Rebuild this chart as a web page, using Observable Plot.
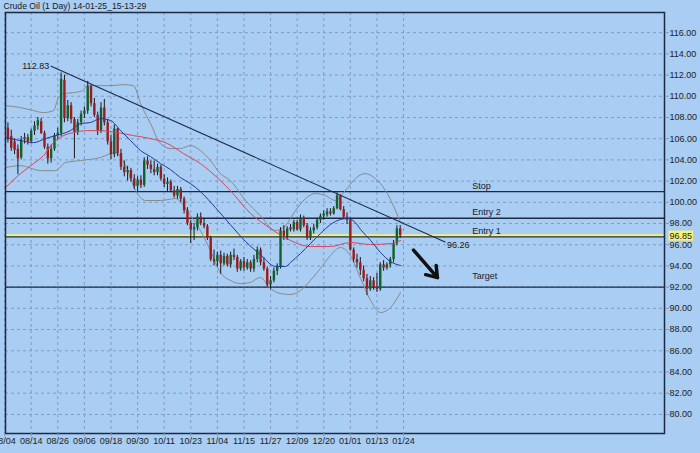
<!DOCTYPE html>
<html><head><meta charset="utf-8">
<script src="https://cdn.jsdelivr.net/npm/d3@7"></script>
<script src="https://cdn.jsdelivr.net/npm/@observablehq/plot@0.6"></script>
<style>
html,body{margin:0;padding:0;background:#a9cdf3;}
#chart{width:700px;height:453px;overflow:hidden;}
</style></head><body><div id="chart"></div>
<script>
const title = "Crude Oil (1 Day) 14-01-25_15-13-29";
const dateLabels = ["08/04","08/14","08/26","09/06","09/18","09/30","10/11","10/23","11/04","11/15","11/27","12/09","12/20","01/01","01/13","01/24"];
const labelIndex = [0,8,16,24,32,40,48,56,64,72,80,88,96,104,112,120];
const yTicks = [80,82,84,86,88,90,92,94,96,98,100,102,104,106,108,110,112,114,116];

// daily OHLC, bars 1..119
const opens  = [107.0,106.2,105.7,105.0,104.2,105.9,106.1,105.7,106.7,107.2,107.6,106.5,105.2,104.1,105.0,106.3,106.5,111.5,107.9,109.1,107.8,106.6,107.5,108.3,108.6,110.9,109.3,108.2,106.7,108.9,107.5,105.7,104.5,106.9,104.6,103.3,102.8,103.0,102.2,101.5,102.1,101.6,103.9,103.5,103.1,102.8,103.3,102.2,101.7,101.9,101.1,100.6,101.2,100.3,99.2,98.0,97.4,97.6,98.6,98.0,97.7,96.6,94.6,94.4,95.0,94.2,94.9,94.1,95.0,94.8,93.7,94.4,93.8,94.3,93.7,94.6,95.5,94.3,93.7,92.2,92.6,93.5,93.9,97.3,96.8,97.5,97.4,98.1,97.4,98.5,97.8,96.6,97.3,97.6,98.3,98.7,98.8,99.1,98.9,99.4,100.6,99.3,98.6,98.3,95.5,94.6,94.3,93.6,92.8,91.8,92.6,92.0,91.8,94.1,93.8,94.1,94.6,96.1,97.5];
const highs  = [107.5,106.8,106.0,105.4,106.2,106.5,106.4,106.9,107.6,108.0,107.9,106.7,105.5,105.4,106.5,107.0,112.2,112.0,109.6,109.4,108.0,107.8,108.6,109.0,111.4,111.0,109.8,108.5,109.4,109.7,107.8,106.3,107.3,107.0,105.0,103.9,103.4,103.2,102.6,102.4,102.5,104.2,104.3,103.9,103.9,103.6,103.5,102.6,102.3,102.1,101.5,101.5,101.4,100.5,99.5,98.3,98.0,98.9,99.0,98.5,97.9,96.8,95.5,95.3,95.4,95.2,95.1,95.3,95.6,95.0,94.6,94.8,94.6,94.5,95.0,95.8,95.7,94.8,93.9,93.0,93.8,94.2,97.6,97.8,97.7,97.9,98.3,98.3,98.8,98.7,98.0,97.6,97.9,98.5,98.9,99.2,99.4,99.4,99.6,100.9,100.7,99.6,99.0,98.5,95.7,95.1,94.8,94.0,93.2,93.0,92.9,93.3,94.3,94.5,94.3,94.8,96.4,97.8,97.8];
const lows   = [105.6,104.8,104.5,102.6,104.0,105.5,105.4,105.5,106.3,106.8,106.4,105.0,103.6,103.7,104.8,105.9,106.2,107.5,107.6,107.4,104.1,106.3,107.2,107.9,108.3,109.0,108.0,106.3,106.5,107.2,105.4,104.0,104.2,104.3,103.0,102.4,102.0,101.9,101.2,101.0,101.3,101.4,103.1,102.7,102.5,102.5,102.0,101.4,101.0,100.9,100.4,100.3,100.0,98.9,97.8,96.1,96.4,97.3,97.8,97.5,96.4,94.4,94.0,93.9,93.2,94.0,93.9,93.8,94.5,93.4,93.5,93.5,93.6,93.4,93.4,94.3,94.0,93.5,92.0,91.8,92.4,93.1,93.7,96.4,96.4,97.2,97.2,97.3,97.2,97.6,96.4,96.4,97.0,97.4,98.0,98.3,98.6,98.7,98.8,99.3,99.2,98.4,97.9,95.4,94.3,93.8,93.1,92.5,91.2,91.6,91.7,91.5,91.6,93.5,93.6,93.8,94.3,95.9,96.6];
const closes = [105.9,105.1,104.9,104.1,105.9,106.1,105.7,106.7,107.2,107.7,106.5,105.2,104.1,105.0,106.3,106.5,111.6,107.9,109.1,107.8,106.6,107.5,108.3,108.6,110.9,109.3,108.2,106.7,108.9,107.5,105.7,104.5,106.9,104.6,103.3,102.8,103.0,102.2,101.5,102.1,101.6,103.9,103.5,103.1,102.8,103.3,102.2,101.7,101.9,101.1,100.6,101.2,100.3,99.2,98.0,97.4,97.6,98.6,98.0,97.7,96.6,94.6,94.4,95.0,94.2,94.9,94.1,95.0,94.8,93.7,94.4,93.8,94.3,93.7,94.6,95.5,94.3,93.7,92.2,92.6,93.5,93.9,97.3,96.8,97.5,97.4,98.1,97.4,98.5,97.8,96.6,97.3,97.6,98.3,98.7,98.8,99.1,98.9,99.4,100.6,99.3,98.6,98.3,95.5,94.6,94.3,93.6,92.8,91.8,92.6,92.0,91.8,94.1,93.8,94.1,94.6,96.1,97.5,96.85];

// indicator lines (bar index, price)
const blueIdx = [0.3,4.8,8.7,12.3,15.3,19.8,22.8,25.8,28.8,31.9,34.9,37.9,40.9,43.9,46.9,49.9,52.9,55.9,58.9,63.4,67.9,72.5,76.9,81.5,84.5,86.0,89.0,92.0,95.0,98.0,101.0,103.1,105.5,107.1,110.1,113.1,116.1,119.1];
const blueVal = [106.10,105.82,105.63,106.01,106.29,106.76,107.42,107.52,107.89,107.71,106.76,105.82,104.88,104.31,103.65,103.09,102.33,101.77,101.01,99.51,97.90,96.30,95.08,93.95,93.95,94.32,95.17,96.11,97.05,97.90,98.38,98.47,98.09,97.43,96.40,95.26,94.41,94.04];
const redIdx = [0.3,4.8,8.7,11.7,14.7,17.7,20.7,24.9,28.8,34.0,38.8,43.9,49.0,53.8,58.9,64.9,67.9,74.0,80.0,86.0,92.0,98.0,104.0,110.1,116.1,119.1];
const redVal = [101.39,102.71,103.65,104.40,105.63,106.29,106.57,106.76,106.76,106.57,106.29,106.01,105.54,104.60,103.65,102.05,101.11,98.94,97.53,96.40,95.83,95.83,96.21,96.02,96.11,96.40];
const upIdx = [0.3,4.8,8.7,11.7,14.7,16.2,17.7,20.7,23.4,24.9,28.8,31.9,35.8,38.8,40.9,43.9,46.9,49.9,52.9,55.9,58.9,61.9,64.9,67.9,72.5,76.9,81.5,84.5,87.5,90.5,93.5,96.5,99.5,102.5,105.5,108.5,111.5,114.6,117.6,119.1];
const upVal = [109.12,108.93,108.65,108.46,108.65,109.87,110.25,110.34,110.53,111.0,111.0,111.0,111.10,111.0,109.31,107.42,105.54,105.07,105.07,105.35,104.88,103.94,102.71,102.05,100.17,98.75,97.34,97.81,99.22,100.35,100.83,100.64,100.17,101.11,102.24,102.71,102.24,101.11,99.22,98.09];
const loIdx = [0.3,4.8,10.8,15.3,18.3,22.8,28.8,33.4,36.4,39.4,42.4,46.9,51.4,55.9,58.9,61.9,64.9,67.9,70.9,73.9,76.9,80.0,83.0,86.0,89.0,92.0,95.0,98.0,101.0,104.0,107.1,110.1,113.1,116.1,119.1];
const loVal = [103.28,103.46,102.99,102.99,103.75,103.94,104.22,104.69,103.46,101.11,100.17,100.17,100.35,98.75,97.34,95.45,93.38,92.63,92.34,92.44,92.91,91.87,91.40,91.31,91.68,92.63,93.76,94.98,95.74,94.98,92.81,90.74,89.61,90.08,91.49];

// horizontal levels
const levelNames = ["Stop","Entry 2","Entry 1","Target"];
const levelPrices = [101.0, 98.5, 96.75, 92.0];
const lastPrice = 96.85;
// trend line
const trendIdx = [14, 132.5];
const trendVal = [112.83, 96.26];
// arrow
const arrowStart = [123, 95.5];
const arrowEnd = [130.2, 92.9];

const bars = opens.map((o, k) => ({i: k + 1, o, h: highs[k], l: lows[k], c: closes[k]}));
const line = (idx, val) => idx.map((x, k) => ({x, y: val[k]}));
const levels = levelNames.map((name, k) => ({name, p: levelPrices[k]}));
const trend = line(trendIdx, trendVal);

const ink = "#1c2a44";
const grid = "#7f9cc2";
const plot = Plot.plot({
  width: 700, height: 453,
  marginLeft: 5, marginRight: 36, marginTop: 12, marginBottom: 20,
  style: {background: "#a9cdf3", fontFamily: "Liberation Sans, Arial, sans-serif", fontSize: "9px", color: "#222"},
  x: {domain: [0.27, 198.5], axis: null},
  y: {domain: [78.2, 117.9], axis: null},
  marks: [
    Plot.ruleY(yTicks, {stroke: grid, strokeDasharray: "3,3", strokeWidth: 1}),
    Plot.ruleX(labelIndex, {stroke: grid, strokeDasharray: "3,3", strokeWidth: 1}),
    Plot.ruleY([lastPrice], {stroke: "#f3f07c", strokeWidth: 3}),
    Plot.ruleY(levels, {y: "p", stroke: ink, strokeWidth: 1.3}),
    Plot.line(line(upIdx, upVal), {x: "x", y: "y", stroke: "#8a8a8a", strokeWidth: 1, curve: "monotone-x"}),
    Plot.line(line(loIdx, loVal), {x: "x", y: "y", stroke: "#8a8a8a", strokeWidth: 1, curve: "monotone-x"}),
    Plot.ruleX(bars, {x: "i", y1: "l", y2: "h", stroke: "#1b1b1b", strokeWidth: 1}),
    Plot.ruleX(bars, {x: "i", y1: d => Math.min(d.o, d.c), y2: d => Math.max(d.o, d.c) + (Math.abs(d.o - d.c) < 0.1 ? 0.1 : 0),
      stroke: d => d.c >= d.o ? "#12602a" : "#9e1b1b", strokeWidth: 2.4}),
    Plot.line(line(redIdx, redVal), {x: "x", y: "y", stroke: "#d8465a", strokeWidth: 1, curve: "monotone-x"}),
    Plot.line(line(blueIdx, blueVal), {x: "x", y: "y", stroke: "#1e3a9a", strokeWidth: 1, curve: "monotone-x"}),
    Plot.line(trend, {x: "x", y: "y", stroke: ink, strokeWidth: 1.1}),
    Plot.text([trend[0]], {x: "x", y: "y", text: d => d.y.toFixed(2), textAnchor: "end", dx: -2, fill: "#1a1a1a"}),
    Plot.text([trend[1]], {x: "x", y: "y", text: d => d.y.toFixed(2), textAnchor: "start", dx: 2, dy: 3, fill: "#1a1a1a"}),
    Plot.text(levels.filter(d => d.name !== "Target"), {x: 140.7, y: "p", text: "name", textAnchor: "start", dy: -6, fill: "#1a1a2a"}),
    Plot.text(levels.filter(d => d.name === "Target"), {x: 140.7, y: "p", text: "name", textAnchor: "start", dy: -11, fill: "#1a1a2a"}),
    Plot.arrow([{x1: arrowStart[0], y1: arrowStart[1], x2: arrowEnd[0], y2: arrowEnd[1]}],
      {x1: "x1", y1: "y1", x2: "x2", y2: "y2", stroke: "#111", strokeWidth: 3.5, headLength: 16, headAngle: 70}),
    Plot.frame({stroke: ink, strokeWidth: 1.5}),
    Plot.axisY(yTicks, {anchor: "right", tickSize: 4, tickPadding: 1, tickFormat: d => d.toFixed(2), stroke: grid, fill: "#222"}),
    Plot.text([lastPrice], {y: d => d, frameAnchor: "right", dx: 5, textAnchor: "start", text: d => d.toFixed(2), fill: "#222"}),
    Plot.axisX(labelIndex, {anchor: "bottom", tickSize: 3, tickPadding: 1, tickFormat: d => dateLabels[labelIndex.indexOf(d)], stroke: grid, fill: "#222"}),
    Plot.text([title], {frameAnchor: "top-left", dx: -2, dy: -6, textAnchor: "start", lineAnchor: "middle", fill: "#1a1a1a", fontSize: 8.6})
  ]
});
document.getElementById("chart").appendChild(plot);
// yellow highlight behind the last-price label
d3.select(plot).selectAll("text").filter(function() { return this.textContent === lastPrice.toFixed(2); }).each(function() {
  const b = this.getBBox();
  d3.select(this.parentNode).insert("rect", () => this)
    .attr("transform", this.getAttribute("transform"))
    .attr("x", b.x - 1).attr("y", b.y).attr("width", b.width + 2).attr("height", b.height).attr("fill", "#f5f27a");
});
</script></body></html>
